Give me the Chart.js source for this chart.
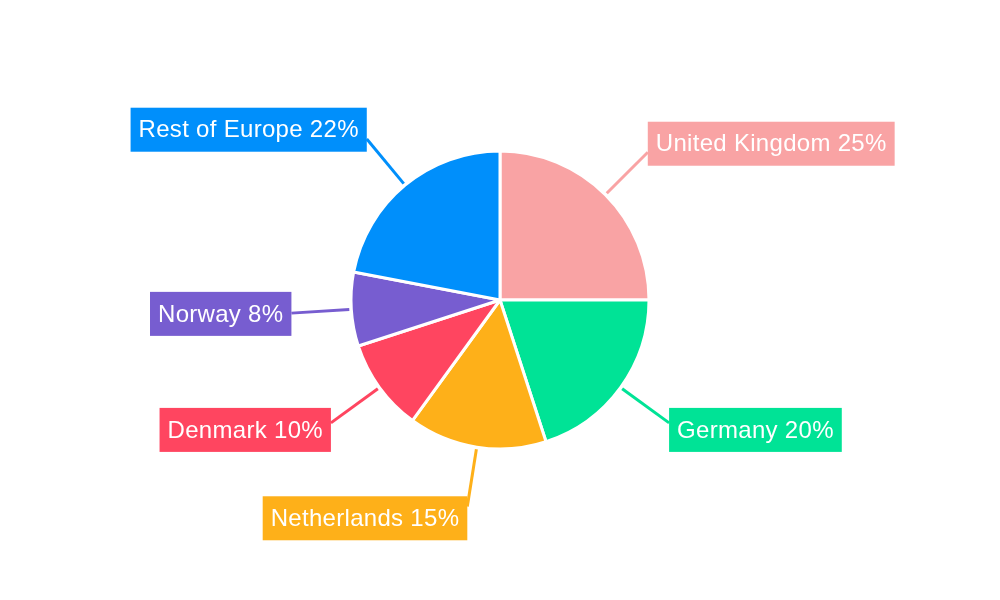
<!DOCTYPE html>
<html>
<head>
<meta charset="utf-8">
<script src="https://cdn.jsdelivr.net/npm/chart.js@4"></script>
<style>
  html, body { margin: 0; padding: 0; background: #fff; }
  #wrap { width: 1000px; height: 600px; }
</style>
</head>
<body>
<div id="wrap"><canvas id="myChart"></canvas></div>
<script>
const countries = ['United Kingdom', 'Germany', 'Netherlands', 'Denmark', 'Norway', 'Rest of Europe'];
const shares = [25, 20, 15, 10, 8, 22];
const colors = ['#F9A3A4', '#00E396', '#FEB019', '#FF4560', '#775DD0', '#008FFB'];

// leader lines + coloured label boxes
const calloutLabels = {
    id: 'calloutLabels',
    afterDatasetsDraw(chart) {
        const ctx = chart.ctx;
        const arcs = chart.getDatasetMeta(0).data;
        ctx.save();
        ctx.font = '24px "Liberation Sans", Arial, sans-serif';
        ctx.letterSpacing = '0.3px';
        ctx.textBaseline = 'middle';
        arcs.forEach((arc, i) => {
            const mid = (arc.startAngle + arc.endAngle) / 2;
            const cos = Math.cos(mid), sin = Math.sin(mid);
            const r = arc.outerRadius;
            const x1 = arc.x + cos * (r + 2), y1 = arc.y + sin * (r + 2);
            const x2 = arc.x + cos * (r + 60), y2 = arc.y + sin * (r + 60);

            ctx.strokeStyle = colors[i];
            ctx.lineWidth = 3;
            ctx.beginPath();
            ctx.moveTo(x1, y1);
            ctx.lineTo(x2, y2);
            ctx.stroke();

            const text = countries[i] + ' ' + shares[i] + '%';
            const w = ctx.measureText(text).width + 16;
            const h = 44;
            const cy = arc.y + sin * (r + 72);
            const left = cos >= 0 ? x2 : x2 - w;
            ctx.fillStyle = colors[i];
            ctx.fillRect(left, cy - h / 2, w, h);
            ctx.fillStyle = '#fff';
            ctx.fillText(text, left + 8, cy + 1);
        });
        ctx.restore();
    }
};

new Chart(document.getElementById('myChart').getContext('2d'), {
    type: 'pie',
    data: {
        labels: countries,
        datasets: [{
            data: shares,
            backgroundColor: colors,
            borderColor: '#fff',
            borderWidth: 3,
            radius: 149
        }]
    },
    options: {
        responsive: true,
        maintainAspectRatio: false,
        animation: false,
        layout: { padding: 0 },
        plugins: {
            legend: { display: false },
            tooltip: { enabled: false }
        }
    },
    plugins: [calloutLabels]
});
</script>
</body>
</html>
